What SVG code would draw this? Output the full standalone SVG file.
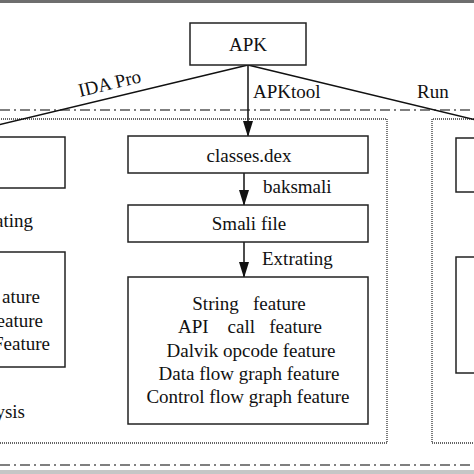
<svg xmlns="http://www.w3.org/2000/svg" width="474" height="474" viewBox="0 0 474 474">
  <defs>
    <marker id="arr" markerUnits="userSpaceOnUse" markerWidth="16" markerHeight="11" refX="15" refY="5" orient="auto" viewBox="0 0 16 10">
      <path d="M0,0 L16,5 L0,10 Z" fill="#111"/>
    </marker>
    <style>
      .box { fill: #fff; stroke: #222; stroke-width: 1.5; }
      .dot { fill: none; stroke: #333; stroke-width: 1.3; stroke-dasharray: 1 1; }
      .dd { fill: none; stroke: #555; stroke-width: 1.6; stroke-dasharray: 10 4 2 4; }
      .ln { fill: none; stroke: #111; stroke-width: 1.5; }
      text { font-family: "Liberation Serif", "Times New Roman", serif; font-size: 19px; fill: #111; }
      .c { text-anchor: middle; }
      .e { text-anchor: end; }
      .pre { white-space: pre; }
    </style>
  </defs>
  <rect x="0" y="0" width="474" height="474" fill="#fff"/>
  <rect x="0" y="0" width="474" height="3" fill="#6e6e6e"/>
  <rect x="0" y="470" width="474" height="4" fill="#c6c6c6"/>

  <g id="frames">
    <line class="dd" x1="0" y1="110" x2="474" y2="110"/>
    <line class="dd" x1="0" y1="465" x2="474" y2="465"/>
    <path class="dot" d="M-5,119 H387 V443 H-5"/>
    <path class="dot" d="M480,119 H432 V443 H480"/>
  </g>

  <g id="connectors">
    <line class="ln" x1="248" y1="65" x2="-2" y2="125"/>
    <line class="ln" x1="248" y1="65" x2="476" y2="120"/>
    <line class="ln" x1="248" y1="65" x2="248" y2="136" marker-end="url(#arr)"/>
    <line class="ln" x1="244" y1="173" x2="244" y2="205" marker-end="url(#arr)"/>
    <line class="ln" x1="244" y1="242" x2="244" y2="277" marker-end="url(#arr)"/>
    <text transform="translate(80,97) rotate(-13.5)">IDA Pro</text>
    <text x="253" y="98">APKtool</text>
    <text x="417" y="98">Run</text>
    <text x="263" y="193">baksmali</text>
    <text x="262" y="265">Extrating</text>
    <text class="e" x="33" y="227">ating</text>
    <text class="e" x="25" y="418">ysis</text>
  </g>

  <g id="apk">
    <rect class="box" x="190" y="23" width="116" height="42"/>
    <text class="c" x="248" y="51">APK</text>
  </g>

  <g id="left-top">
    <rect class="box" x="-10" y="137" width="75" height="51"/>
  </g>

  <g id="left-features">
    <rect class="box" x="-10" y="252" width="75" height="115"/>
    <text class="e" x="40" y="303">ature</text>
    <text class="e" x="43" y="327">eature</text>
    <text class="e" x="50" y="350">Feature</text>
  </g>

  <g id="classes-dex">
    <rect class="box" x="128" y="136" width="240" height="37"/>
    <text class="c" x="249" y="162">classes.dex</text>
  </g>

  <g id="smali-file">
    <rect class="box" x="128" y="205" width="240" height="37"/>
    <text class="c" x="249" y="230">Smali file</text>
  </g>

  <g id="features">
    <rect class="box" x="128" y="277" width="240" height="147"/>
    <text class="c pre" x="249" y="310">String   feature</text>
    <text class="c pre" x="250" y="333">API    call   feature</text>
    <text class="c" x="251" y="357">Dalvik opcode feature</text>
    <text class="c" x="249" y="380">Data flow graph feature</text>
    <text class="c" x="248" y="403">Control flow graph feature</text>
  </g>

  <g id="right-top">
    <rect class="box" x="456" y="138" width="30" height="54"/>
  </g>

  <g id="right-bottom">
    <rect class="box" x="456" y="257" width="30" height="116"/>
  </g>
</svg>
